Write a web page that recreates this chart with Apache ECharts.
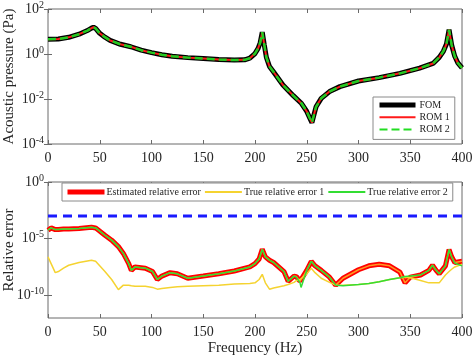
<!DOCTYPE html>
<html><head><meta charset="utf-8">
<script src="https://cdn.jsdelivr.net/npm/echarts@6/dist/echarts.min.js"></script>
<style>html,body{margin:0;padding:0;background:#fff}#c{width:474px;height:359px}</style>
</head><body><div id="c"></div>
<script>
// ---- Top panel: acoustic pressure (Pa) vs frequency (Hz)
const freqTop = [0,10,20,30,38,42,44,46,50,55,60,70,80,90,100,110,120,135,150,165,180,190,195,200,203,205,207,209,211,214,218,227,237,245,250,253,255,257,259,264,272,282,300,320,340,359,372,378,382,385,387.5,390,393,396,400];
const fomPa = [4.47,4.68,5.5,7.6,11.0,14.1,15.5,13.8,8.3,5.6,4.0,2.7,2.1,1.48,1.15,0.93,0.79,0.69,0.63,0.575,0.54,0.55,0.65,1.05,1.78,3.16,9.3,2.5,0.71,0.28,0.158,0.042,0.0141,0.0063,0.0028,0.0014,0.00089,0.002,0.0045,0.0107,0.0214,0.0355,0.063,0.089,0.138,0.234,0.38,0.71,1.32,2.8,12.0,2.51,0.79,0.4,0.24];
const rom1Pa = fomPa; // ROM 1 overlays FOM
const rom2Pa = fomPa; // ROM 2 overlays FOM

// ---- Bottom panel: relative error vs frequency (Hz)
const freqErr = [0,3,7,10,15,20,30,42,46,55,61.5,68,72.8,78,80.5,84,94,101,105.6,110,118,125,135,150,165,180,195,200,204,207,210,214,218,228,232,237.7,240,243.5,244.5,250,254.4,258,264,272,278,285,300,310,320,330,340,345,350,360,368,371.5,375,378,384,387.5,390,393,400];
const estErr = [5.6e-5,8.9e-5,6.3e-5,6.3e-5,7.1e-5,7.1e-5,7.9e-5,1.0e-4,8.9e-5,2.0e-5,7.4e-6,2.0e-6,5.0e-7,6.3e-8,1.6e-8,3.2e-8,2.5e-8,1.26e-8,2.5e-9,5.0e-9,1.0e-8,7.9e-9,3.2e-9,5.0e-9,7.9e-9,1.4e-8,3.2e-8,6.3e-8,1.6e-7,1.17e-6,2.5e-7,1.26e-7,7.9e-8,1.26e-8,1.74e-9,5.0e-9,4.5e-9,1.74e-9,2.0e-9,1.6e-8,1.0e-7,4.0e-8,1.6e-8,4.0e-9,7.9e-10,3.2e-9,1.8e-8,4.0e-8,5.6e-8,4.0e-8,1.1e-8,1.26e-9,4.0e-9,6.3e-9,1.6e-8,4.5e-8,1.6e-8,7.9e-9,4.0e-8,1.1e-6,2.5e-7,7.9e-8,1.0e-7];
const trueErr1 = [2.5e-7,6.3e-8,1.0e-8,1.26e-8,2.5e-8,4.5e-8,7.9e-8,1.26e-7,1.0e-7,1.26e-8,2.5e-9,3.2e-10,7.9e-10,7.9e-10,7.1e-10,6.3e-10,6.3e-10,5.0e-10,3.5e-10,4.0e-10,5.0e-10,5.6e-10,6.3e-10,7.1e-10,7.9e-10,1.0e-9,1.1e-9,1.26e-9,2.5e-9,7.1e-9,1.26e-9,3.5e-10,4.5e-10,7.1e-10,8.9e-10,1.4e-9,2.0e-9,2.5e-9,2.8e-9,7.9e-9,2.5e-8,1.0e-8,3.2e-9,1.4e-9,7.9e-10,7.6e-10,8.9e-10,1.1e-9,1.6e-9,2.5e-9,3.5e-9,4.0e-9,3.5e-9,2.0e-9,1.26e-9,1.26e-9,1.26e-9,1.26e-9,6.3e-9,1.26e-8,2.0e-8,3.2e-8,5.6e-8];
const trueErr2 = [5.6e-5,8.9e-5,6.3e-5,6.3e-5,7.1e-5,7.1e-5,7.9e-5,1.0e-4,8.9e-5,2.0e-5,7.4e-6,2.0e-6,5.0e-7,6.3e-8,1.6e-8,3.2e-8,2.5e-8,1.26e-8,2.5e-9,5.0e-9,1.0e-8,7.9e-9,3.2e-9,5.0e-9,7.9e-9,1.4e-8,3.2e-8,6.3e-8,1.6e-7,1.17e-6,2.5e-7,1.26e-7,7.9e-8,1.26e-8,1.74e-9,5.0e-9,4.0e-9,1.26e-9,5.0e-10,1.6e-8,1.0e-7,4.0e-8,1.6e-8,4.0e-9,7.9e-10,7.1e-10,8.9e-10,1.1e-9,1.6e-9,2.5e-9,3.5e-9,4.5e-9,5.0e-9,6.3e-9,1.6e-8,4.5e-8,1.6e-8,7.9e-9,4.0e-8,1.1e-6,2.5e-7,7.1e-8,4.0e-8];
const tolerance = [1e-3, 1e-3];
const toleranceFreq = [0, 400];

// ---- Tick values
const freqTicks = [0,50,100,150,200,250,300,350,400];
const pressureTicks = [1e-4,1e-2,1,1e2];
const errorTicks = [1e-10,1e-5,1];

const pair = (xs, ys) => xs.map((x, i) => [x, ys[i]]);
const FONT = 'Liberation Serif';
const TXT = '#262626';
const AX = '#6a6a6a';
const supFmt = v => '{b|10}{s|' + Math.round(Math.log10(v)) + '}';
const rich = {
  b: {fontSize: 14, fontFamily: FONT, color: TXT},
  s: {fontSize: 10, fontFamily: FONT, color: TXT, padding: [0, 0, 8, 0]}
};

function xAx(grid, top, withName) {
  const a = {
    gridIndex: grid, type: 'value', min: 0, max: 400, interval: 50,
    position: top ? 'top' : 'bottom',
    axisLine: {show: false},
    axisTick: {show: true, inside: true, length: 4, lineStyle: {color: AX}, customValues: freqTicks},
    splitLine: {show: false},
    axisLabel: {show: !top, fontFamily: FONT, fontSize: 14, color: TXT, margin: 7, customValues: freqTicks}
  };
  if (withName) {
    a.name = 'Frequency (Hz)'; a.nameLocation = 'middle'; a.nameGap = 23; a.nameMoveOverlap = false;
    a.nameTextStyle = {fontFamily: FONT, fontSize: 15, color: TXT};
  }
  return a;
}
function yAx(grid, right, min, max, ticks, name) {
  const a = {
    gridIndex: grid, type: 'log', logBase: 10, min: min, max: max,
    position: right ? 'right' : 'left',
    axisLine: {show: false},
    axisTick: {show: true, inside: true, length: 4, lineStyle: {color: AX}, customValues: ticks},
    splitLine: {show: false},
    axisLabel: {show: !right, formatter: supFmt, rich: rich, margin: 4, customValues: ticks}
  };
  if (name) {
    a.name = name; a.nameLocation = 'middle'; a.nameGap = 31; a.nameMoveOverlap = false;
    a.nameTextStyle = {fontFamily: FONT, fontSize: 15, color: TXT};
  }
  return a;
}

const chart = echarts.init(document.getElementById('c'), null, {renderer: 'canvas'});
const line = (name, xi, yi, data, color, width, type, z) => ({
  name: name, type: 'line', xAxisIndex: xi, yAxisIndex: yi, data: data,
  showSymbol: false, symbol: 'none', z: z, silent: true,
  lineStyle: {color: color, width: width, type: type || 'solid'},
  itemStyle: {color: color}
});
const hiddenIcon = {color: 'rgba(0,0,0,0)', borderColor: 'rgba(0,0,0,0)', borderWidth: 0};

chart.setOption({
  animation: false,
  grid: [
    {left: 48, top: 9, width: 414, height: 135, show: true, borderColor: AX, borderWidth: 1, backgroundColor: '#fff', outerBoundsMode: 'none', containLabel: false},
    {left: 48, top: 182, width: 414, height: 136, show: true, borderColor: AX, borderWidth: 1, backgroundColor: '#fff', outerBoundsMode: 'none', containLabel: false}
  ],
  xAxis: [xAx(0, false, false), xAx(0, true, false), xAx(1, false, true), xAx(1, true, false)],
  yAxis: [
    yAx(0, false, 1e-4, 1e2, pressureTicks, 'Acoustic pressure (Pa)'),
    yAx(0, true, 1e-4, 1e2, pressureTicks, null),
    yAx(1, false, 1e-12, 1, errorTicks, 'Relative error'),
    yAx(1, true, 1e-12, 1, errorTicks, null)
  ],
  legend: [
    {
      orient: 'vertical', left: 373, top: 97, itemWidth: 36, itemHeight: 10, itemGap: 2.2,
      padding: [3, 5, 5, 4], backgroundColor: '#fff', borderColor: '#8a8a8a', borderWidth: 1,
      textStyle: {fontFamily: FONT, fontSize: 10, color: TXT, padding: [0, 0, 0, -1]},
      itemStyle: hiddenIcon,
      data: [
        {name: 'FOM', lineStyle: {width: 5, color: '#000'}, itemStyle: hiddenIcon},
        {name: 'ROM 1', lineStyle: {width: 2, color: '#ff1a1a'}, itemStyle: hiddenIcon},
        {name: 'ROM 2', lineStyle: {width: 2, color: '#22dd22', type: [8, 4]}, itemStyle: hiddenIcon}
      ]
    },
    {
      orient: 'horizontal', left: 62, top: 183, width: 400, itemWidth: 37, itemHeight: 10, itemGap: 3,
      padding: [4, 5, 4, 3], backgroundColor: '#fff', borderColor: '#8a8a8a', borderWidth: 1,
      textStyle: {fontFamily: FONT, fontSize: 10, color: TXT, padding: [0, 0, 0, -3]},
      itemStyle: hiddenIcon,
      data: [
        {name: 'Estimated relative error', lineStyle: {width: 5, color: '#ff0000'}, itemStyle: hiddenIcon},
        {name: 'True relative error 1', lineStyle: {width: 2, color: '#f5d330'}, itemStyle: hiddenIcon},
        {name: 'True relative error 2', lineStyle: {width: 2, color: '#33dd33'}, itemStyle: hiddenIcon}
      ]
    }
  ],
  series: [
    line('FOM', 0, 0, pair(freqTop, fomPa), '#000000', 5, 'solid', 2),
    line('ROM 1', 0, 0, pair(freqTop, rom1Pa), '#ff1a1a', 2, 'solid', 3),
    line('ROM 2', 0, 0, pair(freqTop, rom2Pa), '#22cc22', 2.5, [8, 4], 4),
    line('Tolerance', 2, 2, pair(toleranceFreq, tolerance), '#1a1aff', 3, [9, 6], 2),
    line('Estimated relative error', 2, 2, pair(freqErr, estErr), '#ff0000', 5, 'solid', 3),
    line('Estimated inner', 2, 2, pair(freqErr, estErr), '#ff9922', 1.5, 'solid', 4),
    line('True relative error 1', 2, 2, pair(freqErr, trueErr1), '#f5d330', 1.5, 'solid', 5),
    line('True relative error 2', 2, 2, pair(freqErr, trueErr2), '#33dd33', 1.5, 'solid', 6)
  ]
});
</script>
</body></html>
